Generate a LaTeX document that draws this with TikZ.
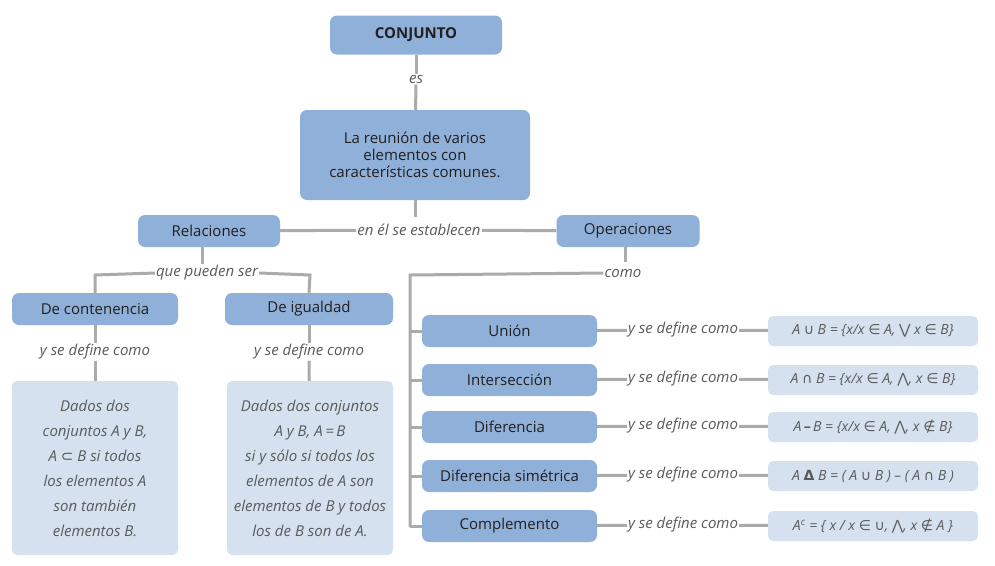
\documentclass[tikz,border=0pt]{standalone}
\usepackage{fontspec}
\setmainfont{Open Sans}
\newfontfamily\sym{DejaVu Sans}
\definecolor{dark}{HTML}{8FB0D8}
\definecolor{light}{HTML}{D5E1EF}
\definecolor{ln}{HTML}{ABABAB}
\definecolor{tx}{HTML}{231F20}
\definecolor{lb}{HTML}{5A5A5A}
\tikzset{
 x=1pt,y=-1pt,
 dbox/.style={fill=dark,rounded corners=7pt,minimum height=32pt,align=center,font=\fontsize{15}{17}\selectfont,text=tx},
 lbox/.style={fill=light,rounded corners=5pt,align=center,text=tx},
 lab/.style={font=\fontsize{15}{17}\selectfont\itshape,text=lb,inner sep=1pt},
 con/.style={draw=ln,line width=3pt},
 fbox/.style={lbox,minimum width=210pt,minimum height=30pt,font=\fontsize{14}{16}\selectfont\itshape,text=lb,inner sep=2pt}
}
\newcommand{\s}[1]{{\upshape\sym #1}}
\begin{document}
\begin{tikzpicture}
\useasboundingbox (0,0) rectangle (995,565);
\node[dbox,minimum width=172pt,minimum height=39pt,font=\fontsize{15}{17}\selectfont\bfseries] (conj) at (416,35) {CONJUNTO};
\node[lab] (es) at (416,79) {es};
\node[dbox,minimum width=230pt,minimum height=90pt,inner sep=2pt] (main) at (415,155) {La reunión de varios\\elementos con\\características comunes.};
\node[lab] (est) at (419,230) {en él se establecen};
\node[dbox,minimum width=142pt] (rel) at (209,231) {Relaciones};
\node[dbox,minimum width=143pt] (ope) at (628,231) {Operaciones};
\node[lab] (qps) at (207,273) {que pueden ser};
\node[dbox,minimum width=166pt] (cont) at (95,309) {De contenencia};
\node[dbox,minimum width=168pt] (igu) at (309,309) {De igualdad};
\node[lab] (d1) at (95,352) {y se define como};
\node[lab] (d2) at (309,352) {y se define como};
\node[lbox,minimum width=166pt,minimum height=174pt,font=\fontsize{15}{25}\selectfont\itshape,text=lb] (t1) at (95,468) {Dados dos\\conjuntos A y B,\\A \s{⊂} B si todos\\los elementos A\\son también\\elementos B.};
\node[lbox,minimum width=166pt,minimum height=174pt,font=\fontsize{15}{25}\selectfont\itshape,text=lb,inner sep=0pt] (t2) at (310,468) {Dados dos conjuntos\\A y B, A\,=\,B\\si y sólo si todos los\\elementos de A son\\elementos de B y todos\\los de B son de A.};
\node[lab] (como) at (623,273) {como};
\coordinate (tl) at (410,275);
\foreach \n/\t/\y/\f in {
 u/Unión/331/{A \s{∪} B = \{x/x \s{∈} A, \s{⋁} x \s{∈} B\}},
 i/Intersección/380/{A \s{∩} B = \{x/x \s{∈} A, \s{⋀}, x \s{∈} B\}},
 d/Diferencia/427/{A\,{\upshape\bfseries –}\,B = \{x/x \s{∈} A, \s{⋀}, x \s{∉} B\}},
 s/Diferencia simétrica/476/{A \s{\bfseries Δ} B = ( A \s{∪} B ) – ( A \s{∩} B )},
 c/Complemento/526/{A\textsuperscript{c} = \{ x / x \s{∈} \s{∪}, \s{⋀}, x \s{∉} A \}}}{
 \node[dbox,minimum width=175pt] (\n) at (509.5,\y) {\t};
 \node[lab] (l\n) at (683,\y-1) {y se define como};
 \node[fbox] (f\n) at (873,\y) {\f};
 \draw[con] (\n) -- (l\n);
 \draw[con] (l\n) -- (f\n);
 \draw[con] (410,\y) -- (\n.west);
}
\draw[con] (conj) -- (es); \draw[con] (es) -- (main);
\draw[con] (main.south) -- (415,217);
\draw[con] (rel) -- (est); \draw[con] (est) -- (ope);
\draw[con] (202,247) -- (qps.north -| 202,0);
\draw[con] (qps.west) -- (95,275) -- (cont.north);
\draw[con] (qps.east) -- (310,275) -- (igu.north);
\draw[con] (ope.south -| 625,0) -- (625,262);
\draw[con] (como.west) -- (tl) -- (410,527);
\draw[con] (cont) -- (d1); \draw[con] (d1) -- (t1);
\draw[con] (igu) -- (d2); \draw[con] (d2) -- (t2);
\end{tikzpicture}
\end{document}
